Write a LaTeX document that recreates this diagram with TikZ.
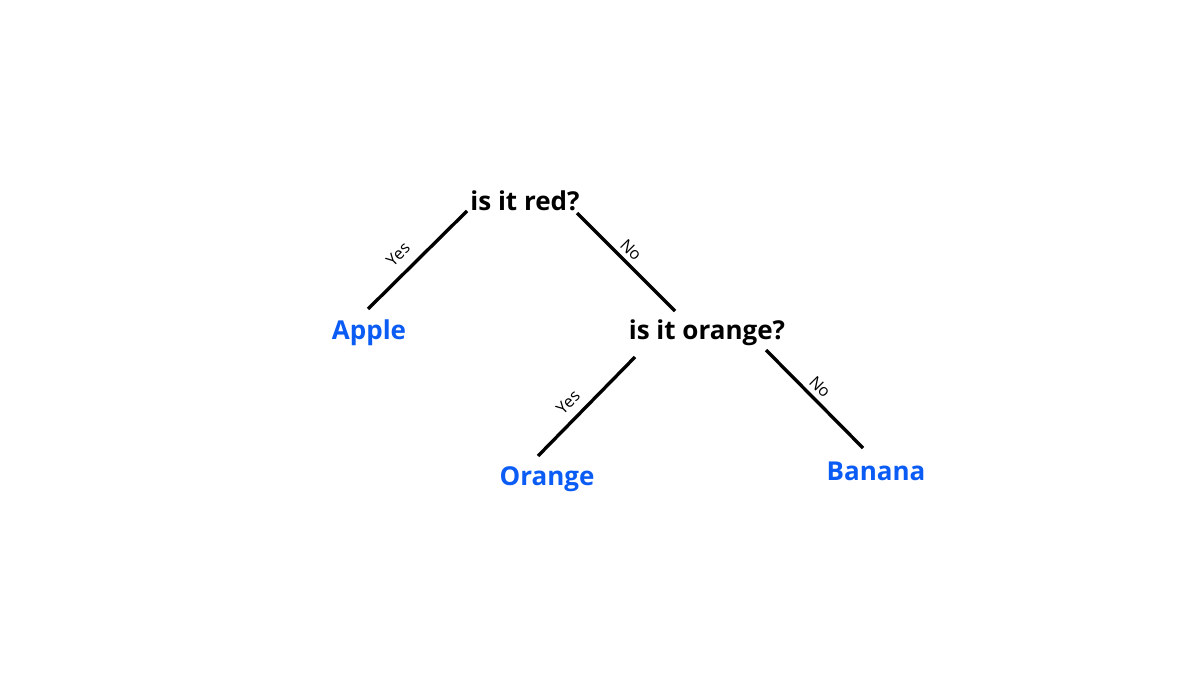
\documentclass[tikz,border=0pt]{standalone}
\usepackage{fontspec}
\setmainfont{Open Sans}
\definecolor{leafblue}{HTML}{0A5CF5}
\begin{document}
\begin{tikzpicture}[x=0.02cm,y=-0.02cm,
  q/.style={font=\bfseries\fontsize{14.8}{17}\selectfont},
  leaf/.style={q,text=leafblue},
  edge/.style={line width=1.9pt},
  lab/.style={font=\fontsize{9.3}{11}\selectfont,inner sep=1pt}]
\useasboundingbox (0,0) rectangle (1200,675);
\node[q] (red) at (525,201) {is it red?};
\node[leaf] (apple) at (369,333) {Apple};
\node[q] (orq) at (707,333) {is it orange?};
\node[leaf] (orange) at (547,479) {Orange};
\node[leaf] (banana) at (876,471) {Banana};
\coordinate (a1) at (467,211); \coordinate (a2) at (368,309);
\coordinate (b1) at (577,213); \coordinate (b2) at (675,311);
\coordinate (c1) at (635,357); \coordinate (c2) at (538,456);
\coordinate (d1) at (766,350); \coordinate (d2) at (863,448);
\draw[edge] (a1) -- (a2);
\draw[edge] (b1) -- (b2);
\draw[edge] (c1) -- (c2);
\draw[edge] (d1) -- (d2);
\node[lab,rotate=45] (l1) at (398,254) {Yes};
\node[lab,rotate=-45] (l2) at (631,250) {No};
\node[lab,rotate=45] (l3) at (568,402) {Yes};
\node[lab,rotate=-45] (l4) at (820,387) {No};
\end{tikzpicture}
\end{document}
